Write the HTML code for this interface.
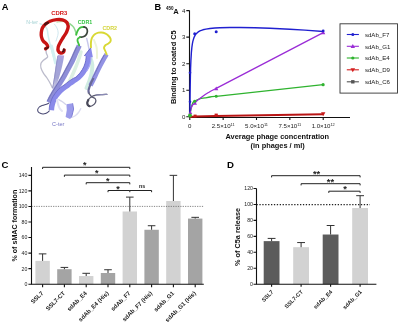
<!DOCTYPE html>
<html><head><meta charset="utf-8">
<style>
html,body{margin:0;padding:0;background:#fff;}
body{width:401px;height:323px;overflow:hidden;}
svg{display:block;font-family:"Liberation Sans",sans-serif;filter:blur(0.3px);}
.b{font-weight:bold;}
.ax{stroke:#111;stroke-width:1.1;fill:none;}
.tk{fill:#222;}
.xl{fill:#222;}
.st{fill:#222;}
</style></head><body>
<svg width="401" height="323" viewBox="0 0 401 323">
<rect width="401" height="323" fill="#fff"/>
<g id="panelA">
<text x="1.7" y="9.8" class="b" font-size="9.3" fill="#000">A</text>
<text x="26.3" y="23.6" font-size="5.3" fill="#a4d2d4">N-ter</text>
<text x="51.2" y="14.5" class="b" font-size="5.9" fill="#d41414">CDR3</text>
<text x="77.8" y="23.6" class="b" font-size="5.3" fill="#36c444">CDR1</text>
<text x="102.4" y="30.1" class="b" font-size="5.4" fill="#d4d43a">CDR2</text>
<text x="52.1" y="126.1" font-size="5.5" fill="#7474c4">C-ter</text>
<path d="M40.00 23.60 C40.67 23.92 42.83 24.60 44.00 25.50 C45.17 26.40 46.30 27.25 47.00 29.00 C47.70 30.75 47.78 33.83 48.20 36.00 C48.62 38.17 49.03 40.00 49.50 42.00 C49.97 44.00 50.42 45.83 51.00 48.00 C51.58 50.17 52.33 52.67 53.00 55.00 C53.67 57.33 54.67 60.83 55.00 62.00" fill="none" stroke="#d0eef0" stroke-width="1.50" stroke-linecap="round" stroke-linejoin="round" />
<path d="M51.50 46.00 C51.75 47.00 52.55 50.17 53.00 52.00 C53.45 53.83 53.78 55.17 54.20 57.00 C54.62 58.83 55.28 62.00 55.50 63.00" fill="none" stroke="#d4f0f2" stroke-width="3.00" stroke-linecap="round" stroke-linejoin="round" />
<path d="M54.40 24.20 C54.83 24.83 56.37 26.53 57.00 28.00 C57.63 29.47 58.20 31.33 58.20 33.00 C58.20 34.67 57.37 36.67 57.00 38.00 C56.63 39.33 56.17 40.50 56.00 41.00" fill="none" stroke="#d0e8f0" stroke-width="1.00" stroke-linecap="round" stroke-linejoin="round" />
<path d="M56.90 22.30 C57.58 22.20 59.43 21.80 61.00 21.70 C62.57 21.60 64.70 21.28 66.30 21.70 C67.90 22.12 69.88 23.78 70.60 24.20" fill="none" stroke="#b8e8b0" stroke-width="1.00" stroke-linecap="round" stroke-linejoin="round" />
<path d="M86.70 38.40 C86.92 39.33 87.58 42.07 88.00 44.00 C88.42 45.93 89.00 49.00 89.20 50.00" fill="none" stroke="#c8c8ec" stroke-width="1.40" stroke-linecap="round" stroke-linejoin="round" />
<path d="M81.00 52.00 C80.58 53.33 79.50 57.17 78.50 60.00 C77.50 62.83 76.25 66.00 75.00 69.00 C73.75 72.00 72.17 75.50 71.00 78.00 C69.83 80.50 68.50 83.00 68.00 84.00" fill="none" stroke="#dcf0e2" stroke-width="3.50" stroke-linecap="round" stroke-linejoin="round" />
<path d="M90.50 58.00 C90.80 59.17 92.13 62.33 92.30 65.00 C92.47 67.67 92.05 71.17 91.50 74.00 C90.95 76.83 89.83 79.67 89.00 82.00 C88.17 84.33 86.92 87.00 86.50 88.00" fill="none" stroke="#d0ece2" stroke-width="4.00" stroke-linecap="round" stroke-linejoin="round" />
<path d="M94.00 40.00 C94.42 41.17 96.00 44.83 96.50 47.00 C97.00 49.17 96.92 51.17 97.00 53.00 C97.08 54.83 97.00 57.17 97.00 58.00" fill="none" stroke="#eef4d8" stroke-width="2.00" stroke-linecap="round" stroke-linejoin="round" />
<path d="M45.80 48.10 C45.88 48.92 46.00 51.52 46.30 53.00 C46.60 54.48 48.03 55.83 47.60 57.00 C47.17 58.17 44.80 58.95 43.70 60.00 C42.60 61.05 41.45 61.93 41.00 63.30 C40.55 64.67 40.55 66.48 41.00 68.20 C41.45 69.92 42.70 71.97 43.70 73.60 C44.70 75.23 45.95 76.43 47.00 78.00 C48.05 79.57 49.08 81.33 50.00 83.00 C50.92 84.67 52.08 87.17 52.50 88.00" fill="none" stroke="#bcbccc" stroke-width="1.30" stroke-linecap="round" stroke-linejoin="round" />
<defs><linearGradient id="gC" x1="0" y1="0" x2="0" y2="1"><stop offset="0" stop-color="#b6a2dc"/><stop offset="0.15" stop-color="#a2a2dc"/><stop offset="0.65" stop-color="#a4a4d6"/><stop offset="1" stop-color="#d4d4e4"/></linearGradient></defs>
<path d="M57.8 55 L64.2 55.6 C63.2 62 61.5 70 59.3 77 C57.8 82 56 86 53.8 90 L52.3 89 C53 84 54 78 55 71 C55.8 65 56.8 60 57.8 55 Z" fill="url(#gC)"/>
<path d="M57.80 56.00 C57.63 57.00 57.13 59.83 56.80 62.00 C56.47 64.17 56.13 66.67 55.80 69.00 C55.47 71.33 55.17 73.67 54.80 76.00 C54.43 78.33 53.97 81.00 53.60 83.00 C53.23 85.00 52.77 87.17 52.60 88.00" fill="none" stroke="#9090c4" stroke-width="0.90" />
<path d="M79.30 45.50 C78.75 46.67 77.13 50.00 76.00 52.50 C74.87 55.00 73.75 57.92 72.50 60.50 C71.25 63.08 69.83 65.50 68.50 68.00 C67.17 70.50 65.92 73.00 64.50 75.50 C63.08 78.00 61.50 80.58 60.00 83.00 C58.50 85.42 56.92 87.67 55.50 90.00 C54.08 92.33 52.62 94.92 51.50 97.00 C50.38 99.08 49.25 101.58 48.80 102.50" fill="none" stroke="#8e8ed8" stroke-width="5.20" />
<path d="M76.70 47.00 C76.17 48.17 74.62 51.58 73.50 54.00 C72.38 56.42 71.25 59.00 70.00 61.50 C68.75 64.00 67.33 66.50 66.00 69.00 C64.67 71.50 63.42 74.00 62.00 76.50 C60.58 79.00 59.00 81.58 57.50 84.00 C56.00 86.42 54.33 88.83 53.00 91.00 C51.67 93.17 50.42 95.33 49.50 97.00 C48.58 98.67 47.83 100.33 47.50 101.00" fill="none" stroke="#7474b4" stroke-width="1.00" />
<path d="M106.60 54.30 C106.08 55.17 104.55 57.63 103.50 59.50 C102.45 61.37 101.33 63.50 100.30 65.50 C99.27 67.50 98.27 69.50 97.30 71.50 C96.33 73.50 95.38 75.67 94.50 77.50 C93.62 79.33 92.67 81.17 92.00 82.50 C91.33 83.83 90.75 85.00 90.50 85.50" fill="none" stroke="#9292e4" stroke-width="4.60" />
<path d="M104.20 55.00 C103.70 55.92 102.20 58.58 101.20 60.50 C100.20 62.42 99.17 64.50 98.20 66.50 C97.23 68.50 96.30 70.67 95.40 72.50 C94.50 74.33 93.23 76.67 92.80 77.50" fill="none" stroke="#7272b8" stroke-width="1.00" />
<path d="M93.50 78.00 C93.12 78.75 91.87 81.00 91.20 82.50 C90.53 84.00 89.95 85.67 89.50 87.00 C89.05 88.33 88.58 89.42 88.50 90.50 C88.42 91.58 88.92 93.00 89.00 93.50" fill="none" stroke="#6a6a98" stroke-width="2.20" />
<path d="M89.00 93.50 C89.45 94.03 90.63 95.78 91.70 96.70 C92.77 97.62 94.77 98.03 95.40 99.00 C96.03 99.97 95.98 101.42 95.50 102.50 C95.02 103.58 93.58 104.87 92.50 105.50 C91.42 106.13 89.87 106.72 89.00 106.30 C88.13 105.88 87.38 104.13 87.30 103.00 C87.22 101.87 87.77 100.55 88.50 99.50 C89.23 98.45 90.62 97.40 91.70 96.70 C92.78 96.00 93.62 95.65 95.00 95.30 C96.38 94.95 98.02 94.77 100.00 94.60 C101.98 94.43 105.75 94.35 106.90 94.30" fill="none" stroke="#5a5a70" stroke-width="1.30" stroke-linecap="round" stroke-linejoin="round" />
<path d="M88.30 100.00 C88.13 100.42 87.38 101.67 87.30 102.50 C87.22 103.33 87.43 104.38 87.80 105.00 C88.17 105.62 89.22 106.00 89.50 106.20" fill="none" stroke="#484858" stroke-width="2.20" stroke-linecap="round" stroke-linejoin="round" />
<path d="M96.00 95.10 C96.83 95.02 99.18 94.73 101.00 94.60 C102.82 94.47 105.92 94.35 106.90 94.30" fill="none" stroke="#8a8ab4" stroke-width="1.20" stroke-linecap="round" stroke-linejoin="round" />
<path d="M88.60 55.50 C88.52 56.42 88.48 59.08 88.10 61.00 C87.72 62.92 87.18 65.00 86.30 67.00 C85.42 69.00 84.10 71.23 82.80 73.00 C81.50 74.77 79.82 76.38 78.50 77.60 C77.18 78.82 76.23 79.37 74.90 80.30 C73.57 81.23 71.88 82.20 70.50 83.20 C69.12 84.20 67.97 85.28 66.60 86.30 C65.23 87.32 63.65 88.18 62.30 89.30 C60.95 90.42 59.65 91.72 58.50 93.00 C57.35 94.28 56.28 95.50 55.40 97.00 C54.52 98.50 53.77 100.42 53.20 102.00 C52.63 103.58 52.27 105.13 52.00 106.50 C51.73 107.87 51.67 109.58 51.60 110.20" fill="none" stroke="#8a8aea" stroke-width="5.00" />
<path d="M86.30 54.90 C86.22 55.82 86.18 58.48 85.80 60.40 C85.42 62.32 84.88 64.40 84.00 66.40 C83.12 68.40 81.80 70.63 80.50 72.40 C79.20 74.17 77.40 76.00 76.20 77.00 C75.00 78.00 74.52 77.68 73.30 78.40 C72.08 79.12 70.28 80.30 68.90 81.30 C67.52 82.30 66.37 83.38 65.00 84.40 C63.63 85.42 62.05 86.28 60.70 87.40 C59.35 88.52 58.18 89.57 56.90 91.10 C55.62 92.63 54.02 94.85 53.00 96.60 C51.98 98.35 51.37 100.02 50.80 101.60 C50.23 103.18 49.87 104.73 49.60 106.10 C49.33 107.47 49.27 109.18 49.20 109.80" fill="none" stroke="#7070cc" stroke-width="1.00" />
<path d="M91.00 56.50 C90.95 57.25 90.97 59.42 90.70 61.00 C90.43 62.58 90.05 64.33 89.40 66.00 C88.75 67.67 87.23 70.17 86.80 71.00" fill="none" stroke="#a6a6f4" stroke-width="1.20" />
<polygon points="84.3,56 92.9,57.3 91,47.3" fill="#8a8aea"/>
<path d="M84.3 55.9 L91 47.5" stroke="#6060c4" stroke-width="0.9"/>
<path d="M48.60 103.30 C48.25 103.45 47.25 103.92 46.50 104.20 C45.75 104.48 44.93 104.73 44.10 105.00 C43.27 105.27 42.30 105.47 41.50 105.80 C40.70 106.13 39.93 106.38 39.30 107.00 C38.67 107.62 37.87 108.67 37.70 109.50 C37.53 110.33 37.87 111.37 38.30 112.00 C38.73 112.63 39.52 112.98 40.30 113.30 C41.08 113.62 42.13 113.87 43.00 113.90 C43.87 113.93 44.72 113.75 45.50 113.50 C46.28 113.25 47.07 112.85 47.70 112.40 C48.33 111.95 49.03 111.07 49.30 110.80" fill="none" stroke="#4a4a74" stroke-width="1.05" stroke-linecap="round" stroke-linejoin="round" />
<path d="M58.80 99.70 C59.33 100.00 60.88 100.75 62.00 101.50 C63.12 102.25 64.92 103.75 65.50 104.20" fill="none" stroke="#d4d4ea" stroke-width="1.40" stroke-linecap="round" stroke-linejoin="round" />
<path d="M57.00 100.00 C57.17 100.67 57.58 102.67 58.00 104.00 C58.42 105.33 58.83 106.83 59.50 108.00 C60.17 109.17 61.58 110.50 62.00 111.00" fill="none" stroke="#e4e4f4" stroke-width="2.00" stroke-linecap="round" stroke-linejoin="round" />
<polygon points="66.4,104.2 72.6,103.3 73.6,109 71.5,117.5 70,119 65.6,117 66.8,110" fill="#9c9cea"/>
<path d="M72.6 103.3 L73.6 109 L71.5 117.5" fill="none" stroke="#8080d8" stroke-width="1"/>
<path d="M80.80 108.60 C80.42 109.25 79.38 111.35 78.50 112.50 C77.62 113.65 76.55 114.70 75.50 115.50 C74.45 116.30 72.75 117.00 72.20 117.30" fill="none" stroke="#dcdcf0" stroke-width="1.30" stroke-linecap="round" stroke-linejoin="round" />
<path d="M45.60 48.80 C45.97 48.47 47.65 47.60 47.80 46.80 C47.95 46.00 47.27 44.97 46.50 44.00 C45.73 43.03 44.03 42.17 43.20 41.00 C42.37 39.83 41.82 38.43 41.50 37.00 C41.18 35.57 41.13 33.93 41.30 32.40 C41.47 30.87 41.83 29.17 42.50 27.80 C43.17 26.43 44.05 25.30 45.30 24.20 C46.55 23.10 48.13 21.97 50.00 21.20 C51.87 20.43 54.42 19.83 56.50 19.60 C58.58 19.37 60.78 19.33 62.50 19.80 C64.22 20.27 65.85 21.23 66.80 22.40 C67.75 23.57 68.23 25.20 68.20 26.80 C68.17 28.40 67.43 30.22 66.60 32.00 C65.77 33.78 64.27 35.75 63.20 37.50 C62.13 39.25 61.03 40.92 60.20 42.50 C59.37 44.08 58.52 45.58 58.20 47.00 C57.88 48.42 57.87 49.98 58.30 51.00 C58.73 52.02 59.93 52.93 60.80 53.10 C61.67 53.27 62.93 52.52 63.50 52.00 C64.07 51.48 64.08 50.33 64.20 50.00" fill="none" stroke="#c81414" stroke-width="3.40" stroke-linecap="round" stroke-linejoin="round" />
<path d="M48.00 47.40 C47.80 47.57 47.22 48.20 46.80 48.40 C46.38 48.60 45.72 48.57 45.50 48.60" fill="none" stroke="#5a1010" stroke-width="2.00" stroke-linecap="round" stroke-linejoin="round" />
<path d="M62.80 51.60 C63.00 51.43 63.83 50.98 64.00 50.60 C64.17 50.22 63.83 49.52 63.80 49.30" fill="none" stroke="#4a1414" stroke-width="1.80" stroke-linecap="round" stroke-linejoin="round" />
<path d="M45.00 24.40 C45.25 24.23 46.03 23.67 46.50 23.40 C46.97 23.13 47.58 22.90 47.80 22.80" fill="none" stroke="#501010" stroke-width="2.40" stroke-linecap="round" stroke-linejoin="round" />
<path d="M69.50 23.60 C70.05 24.05 71.98 25.47 72.80 26.30 C73.62 27.13 73.95 27.73 74.40 28.60 C74.85 29.47 75.20 30.48 75.50 31.50 C75.80 32.52 76.08 34.17 76.20 34.70" fill="none" stroke="#8ed88e" stroke-width="1.40" stroke-linecap="round" stroke-linejoin="round" />
<path d="M76.20 34.70 C76.42 34.08 76.98 32.05 77.50 31.00 C78.02 29.95 78.60 29.03 79.30 28.40 C80.00 27.77 80.92 27.43 81.70 27.20 C82.48 26.97 83.62 27.03 84.00 27.00" fill="none" stroke="#40c040" stroke-width="1.80" stroke-linecap="round" stroke-linejoin="round" />
<path d="M84.00 27.00 C84.38 27.17 85.73 27.33 86.30 28.00 C86.87 28.67 87.35 30.00 87.40 31.00 C87.45 32.00 87.02 33.17 86.60 34.00 C86.18 34.83 85.62 35.50 84.90 36.00 C84.18 36.50 83.13 36.80 82.30 37.00 C81.47 37.20 80.30 37.17 79.90 37.20" fill="none" stroke="#3c463c" stroke-width="1.70" stroke-linecap="round" stroke-linejoin="round" />
<path d="M79.90 37.20 C79.58 37.43 78.40 38.03 78.00 38.60 C77.60 39.17 77.45 39.87 77.50 40.60 C77.55 41.33 78.02 42.22 78.30 43.00 C78.58 43.78 79.05 44.92 79.20 45.30" fill="none" stroke="#40c040" stroke-width="1.80" stroke-linecap="round" stroke-linejoin="round" />
<path d="M91.00 47.30 C90.98 46.67 90.85 44.72 90.90 43.50 C90.95 42.28 91.02 41.12 91.30 40.00 C91.58 38.88 91.95 37.80 92.60 36.80 C93.25 35.80 94.22 34.68 95.20 34.00 C96.18 33.32 97.45 32.95 98.50 32.70 C99.55 32.45 100.42 32.38 101.50 32.50 C102.58 32.62 103.88 32.90 105.00 33.40 C106.12 33.90 107.28 34.63 108.20 35.50 C109.12 36.37 110.13 37.57 110.50 38.60 C110.87 39.63 110.82 40.83 110.40 41.70 C109.98 42.57 108.80 43.25 108.00 43.80 C107.20 44.35 106.27 44.33 105.60 45.00 C104.93 45.67 104.05 46.80 104.00 47.80 C103.95 48.80 104.87 49.92 105.30 51.00 C105.73 52.08 106.38 53.75 106.60 54.30" fill="none" stroke="#d8d834" stroke-width="1.90" stroke-linecap="round" stroke-linejoin="round" />
</g>
<g id="panelB">
<text x="154.5" y="9.8" class="b" font-size="9.2" fill="#000">B</text>
<text x="165.9" y="10.3" class="b" font-size="4.6" fill="#111">450</text>
<text x="173.3" y="13.7" class="b" font-size="7.6" fill="#111">A</text>
<text transform="translate(175.6,104) rotate(-90)" class="b" font-size="7.36" fill="#111">Binding to coated C5</text>
<path class="ax" d="M189.5 10.6 V117.5 M186.3 116.80 H189.5 M186.3 90.25 H189.5 M186.3 63.70 H189.5 M186.3 37.15 H189.5 M186.3 10.60 H189.5 "/>
<text x="185.4" y="119.00" class="tk" font-size="6.1" text-anchor="end">0</text>
<text x="185.4" y="92.45" class="tk" font-size="6.1" text-anchor="end">1</text>
<text x="185.4" y="65.90" class="tk" font-size="6.1" text-anchor="end">2</text>
<text x="185.4" y="39.35" class="tk" font-size="6.1" text-anchor="end">3</text>
<text x="185.4" y="12.80" class="tk" font-size="6.1" text-anchor="end">4</text>
<path class="ax" d="M189.5 117.5 H350 M189.80 117.5 V120 M223.15 117.5 V120 M256.50 117.5 V120 M289.85 117.5 V120 M323.20 117.5 V120 "/>
<text x="189.6" y="128" class="tk" font-size="6.1" text-anchor="middle">0</text>
<text x="223.15" y="128" class="tk" font-size="6.1" text-anchor="middle">2.5×10<tspan font-size="3.9" dy="-2.5">11</tspan></text>
<text x="256.50" y="128" class="tk" font-size="6.1" text-anchor="middle">5.0×10<tspan font-size="3.9" dy="-2.5">11</tspan></text>
<text x="289.85" y="128" class="tk" font-size="6.1" text-anchor="middle">7.5×10<tspan font-size="3.9" dy="-2.5">11</tspan></text>
<text x="323.20" y="128" class="tk" font-size="6.1" text-anchor="middle">1.0×10<tspan font-size="3.9" dy="-2.5">12</tspan></text>
<text x="277.3" y="139.3" class="b" font-size="7.4" fill="#111" text-anchor="middle">Average phage concentration</text>
<text x="277.7" y="148.3" class="b" font-size="7.4" fill="#111" text-anchor="middle">(in phages / ml)</text>
<polyline points="189.80,117.00 195.00,116.50 216.00,116.00 323.20,114.30" fill="none" stroke="#b81414" stroke-width="2"/>
<path d="M189.90 115.80 C190.05 114.83 190.45 111.80 190.80 110.00 C191.15 108.20 191.57 106.35 192.00 105.00 C192.43 103.65 192.90 102.58 193.40 101.90 C193.90 101.22 193.97 101.42 195.00 100.90 C196.03 100.38 197.93 99.30 199.60 98.80 C201.27 98.30 203.27 98.20 205.00 97.90 C206.73 97.60 208.13 97.27 210.00 97.00 C211.87 96.73 215.17 96.42 216.20 96.30 L323.1 84.7" fill="none" stroke="#2fb32f" stroke-width="1.3"/>
<path d="M190.20 112.50 C190.37 111.75 190.80 109.25 191.20 108.00 C191.60 106.75 192.03 105.78 192.60 105.00 C193.17 104.22 193.82 104.03 194.60 103.30 C195.38 102.57 195.82 101.87 197.30 100.60 C198.78 99.33 201.55 97.10 203.50 95.70 C205.45 94.30 207.42 93.15 209.00 92.20 C210.58 91.25 211.80 90.63 213.00 90.00 C214.20 89.37 215.67 88.67 216.20 88.40 L323.2 32.6" fill="none" stroke="#9a2cd6" stroke-width="1.3"/>
<polyline points="189.90,116.80 189.95,109.94 190.00,104.05 190.10,94.43 190.20,86.91 190.40,75.92 190.60,68.27 190.90,60.35 191.40,52.14 191.90,47.07 192.40,43.63 192.90,41.14 193.90,37.78 194.90,35.62 195.90,34.11 197.90,32.16 199.90,30.94 202.90,29.80 205.90,29.08 209.90,28.47 214.90,28.01 219.90,27.73 229.90,27.50 239.90,27.50 254.90,27.77 269.90,28.28 289.90,29.24 304.90,30.15 323.30,31.48" fill="none" stroke="#2020d0" stroke-width="1.4" stroke-linejoin="round"/>
<g fill="#2020d0"><circle cx="190" cy="72.7" r="1.3"/><circle cx="190" cy="101.8" r="1.3"/><circle cx="194.7" cy="33.7" r="1.5"/><circle cx="216.2" cy="31.7" r="1.5"/></g>
<polygon points="190.40,110.86 188.60,114.10 192.20,114.10" fill="#9a2cd6"/>
<polygon points="195.10,101.45 193.20,104.87 197.00,104.87" fill="#9a2cd6"/>
<polygon points="216.20,86.53 214.10,90.31 218.30,90.31" fill="#9a2cd6"/>
<polygon points="323.20,30.53 321.10,34.31 325.30,34.31" fill="#9a2cd6"/>
<circle cx="323.2" cy="30.9" r="1.4" fill="#2020d0"/>
<g fill="#2fb32f"><circle cx="194.6" cy="101.2" r="1.5"/><circle cx="216.2" cy="96.3" r="1.5"/><circle cx="323.1" cy="84.7" r="1.6"/><circle cx="190" cy="115.6" r="2"/></g>
<g fill="#c81a1a"><rect x="193.6" y="114.6" width="3" height="2.8"/><rect x="214.6" y="113.6" width="3.2" height="3"/></g>
<polygon points="323.20,116.28 321.00,112.32 325.40,112.32" fill="#c81a1a"/>
<rect x="340" y="23.8" width="57.5" height="69.3" fill="none" stroke="#333" stroke-width="0.9"/>
<line x1="346.8" y1="34.5" x2="358.9" y2="34.5" stroke="#2020d0" stroke-width="1.1"/>
<text x="364.9" y="36.7" font-size="6.1" fill="#1a1a1a">sdAb_F7</text>
<line x1="346.8" y1="46.3" x2="358.9" y2="46.3" stroke="#9a2cd6" stroke-width="1.1"/>
<text x="364.9" y="48.5" font-size="6.1" fill="#1a1a1a">sdAb_G1</text>
<line x1="346.8" y1="58.0" x2="358.9" y2="58.0" stroke="#2fb32f" stroke-width="1.1"/>
<text x="364.9" y="60.2" font-size="6.1" fill="#1a1a1a">sdAb_E4</text>
<line x1="346.8" y1="69.8" x2="358.9" y2="69.8" stroke="#d42020" stroke-width="1.1"/>
<text x="364.9" y="72.0" font-size="6.1" fill="#1a1a1a">sdAb_D9</text>
<line x1="346.8" y1="81.8" x2="358.9" y2="81.8" stroke="#555" stroke-width="1.1"/>
<text x="364.9" y="84.0" font-size="6.1" fill="#1a1a1a">sdAb_C6</text>
<circle cx="352.8" cy="34.5" r="1.5" fill="#2020d0"/>
<polygon points="352.80,43.92 350.60,47.88 355.00,47.88" fill="#9a2cd6"/>
<circle cx="352.8" cy="58" r="1.6" fill="#2fb32f"/>
<polygon points="352.80,72.28 350.50,68.14 355.10,68.14" fill="#d42020"/>
<rect x="351.1" y="80.1" width="3.4" height="3.4" fill="#555"/>
</g>
<g id="panelC">
<text x="1.6" y="168" class="b" font-size="9.6" fill="#000">C</text>
<text transform="translate(16.8,261.5) rotate(-90)" class="b" font-size="7.1" fill="#111">% of sMAC formation</text>
<rect x="35.40" y="260.88" width="14.40" height="23.32" fill="#d2d2d2"/>
<rect x="57.20" y="269.19" width="14.40" height="15.01" fill="#a4a4a4"/>
<rect x="79.00" y="276.04" width="14.40" height="8.16" fill="#d2d2d2"/>
<rect x="100.80" y="273.00" width="14.40" height="11.20" fill="#a4a4a4"/>
<rect x="122.60" y="211.50" width="14.40" height="72.70" fill="#d2d2d2"/>
<rect x="144.40" y="229.77" width="14.40" height="54.43" fill="#a4a4a4"/>
<rect x="166.20" y="201.01" width="14.40" height="83.19" fill="#d2d2d2"/>
<rect x="188.00" y="218.58" width="14.40" height="65.62" fill="#a4a4a4"/>
<line x1="31.5" y1="206.4" x2="203.5" y2="206.4" stroke="#666" stroke-width="0.8" stroke-dasharray="1.2 1.2"/>
<path fill="none" stroke="#333" stroke-width="1" d="M42.60 260.88 V253.88 M38.80 253.88 H46.40 M64.40 269.19 V267.41 M60.60 267.41 H68.20 M86.20 276.04 V273.31 M82.40 273.31 H90.00 M108.00 273.00 V269.74 M104.20 269.74 H111.80 M129.80 211.50 V197.12 M126.00 197.12 H133.60 M151.60 229.77 V225.73 M147.80 225.73 H155.40 M173.40 201.01 V175.35 M169.60 175.35 H177.20 M195.20 218.58 V217.33 M191.40 217.33 H199.00 "/>
<path class="ax" d="M31.5 167 V284.2 H203.8"/>
<path class="ax" d="M28.4 284.20 H31.5 M28.4 268.65 H31.5 M28.4 253.10 H31.5 M28.4 237.55 H31.5 M28.4 222.00 H31.5 M28.4 206.45 H31.5 M28.4 190.90 H31.5 M28.4 175.35 H31.5 M42.60 284.2 V287.3 M64.40 284.2 V287.3 M86.20 284.2 V287.3 M108.00 284.2 V287.3 M129.80 284.2 V287.3 M151.60 284.2 V287.3 M173.40 284.2 V287.3 M195.20 284.2 V287.3 "/>
<text x="27.4" y="286.10" class="tk" font-size="5.2" text-anchor="end">0</text>
<text x="27.4" y="270.55" class="tk" font-size="5.2" text-anchor="end">20</text>
<text x="27.4" y="255.00" class="tk" font-size="5.2" text-anchor="end">40</text>
<text x="27.4" y="239.45" class="tk" font-size="5.2" text-anchor="end">60</text>
<text x="27.4" y="223.90" class="tk" font-size="5.2" text-anchor="end">80</text>
<text x="27.4" y="208.35" class="tk" font-size="5.2" text-anchor="end">100</text>
<text x="27.4" y="192.80" class="tk" font-size="5.2" text-anchor="end">120</text>
<text x="27.4" y="177.25" class="tk" font-size="5.2" text-anchor="end">140</text>
<text transform="translate(43.70,293.70) rotate(-45)" class="xl b" font-size="5.9" text-anchor="end">SSL7</text>
<text transform="translate(65.50,293.70) rotate(-45)" class="xl b" font-size="5.9" text-anchor="end">SSL7-CT</text>
<text transform="translate(87.30,293.70) rotate(-45)" class="xl b" font-size="5.9" text-anchor="end">sdAb_E4</text>
<text transform="translate(109.10,293.70) rotate(-45)" class="xl b" font-size="5.9" text-anchor="end">sdAb_E4 (His)</text>
<text transform="translate(130.90,293.70) rotate(-45)" class="xl b" font-size="5.9" text-anchor="end">sdAb_F7</text>
<text transform="translate(152.70,293.70) rotate(-45)" class="xl b" font-size="5.9" text-anchor="end">sdAb_F7 (His)</text>
<text transform="translate(174.50,293.70) rotate(-45)" class="xl b" font-size="5.9" text-anchor="end">sdAb_G1</text>
<text transform="translate(196.30,293.70) rotate(-45)" class="xl b" font-size="5.9" text-anchor="end">sdAb_G1 (His)</text>
<path fill="none" stroke="#222" stroke-width="1" d="M42.60 169.00 V167.30 H129.80 V169.00 M64.40 176.80 V175.10 H129.80 V176.80 M86.20 184.40 V182.70 H129.80 V184.40 M108.00 192.20 V190.50 H129.80 V192.20 M129.80 190.5 H151.60 V192.2"/>
<text x="84.7" y="168.2" class="b st" font-size="9" text-anchor="middle">*</text>
<text x="96.8" y="175.7" class="b st" font-size="9" text-anchor="middle">*</text>
<text x="107.7" y="183.8" class="b st" font-size="9" text-anchor="middle">*</text>
<text x="118.0" y="191.7" class="b st" font-size="9" text-anchor="middle">*</text>
<text x="142.1" y="188.4" font-size="5.3" class="b" fill="#222" text-anchor="middle">ns</text>
</g>
<g id="panelD">
<text x="227.1" y="167.7" class="b" font-size="9.6" fill="#000">D</text>
<text transform="translate(240.3,265.9) rotate(-90)" class="b" font-size="7.3" fill="#111">% of C5a release</text>
<rect x="263.70" y="241.13" width="15.80" height="43.06" fill="#5c5c5c"/>
<rect x="293.20" y="247.20" width="15.80" height="37.00" fill="#d2d2d2"/>
<rect x="322.70" y="234.52" width="15.80" height="49.68" fill="#5c5c5c"/>
<rect x="352.20" y="208.04" width="15.80" height="76.16" fill="#d2d2d2"/>
<line x1="256.5" y1="204.6" x2="370" y2="204.6" stroke="#222" stroke-width="1.2" stroke-dasharray="1.3 1.6"/>
<path fill="none" stroke="#333" stroke-width="1" d="M271.60 241.13 V238.42 M267.70 238.42 H275.50 M301.10 247.20 V242.57 M297.20 242.57 H305.00 M330.60 234.52 V225.50 M326.70 225.50 H334.50 M360.10 208.04 V195.68 M356.20 195.68 H364.00 "/>
<path class="ax" d="M256.5 188.4 V284.2 H376.4"/>
<path class="ax" d="M253.5 284.20 H256.5 M253.5 268.25 H256.5 M253.5 252.30 H256.5 M253.5 236.35 H256.5 M253.5 220.40 H256.5 M253.5 204.45 H256.5 M253.5 188.50 H256.5 M271.60 284.2 V286.8 M301.10 284.2 V286.8 M330.60 284.2 V286.8 M360.10 284.2 V286.8 "/>
<text x="253" y="286.10" class="tk" font-size="5.2" text-anchor="end">0</text>
<text x="253" y="270.15" class="tk" font-size="5.2" text-anchor="end">20</text>
<text x="253" y="254.20" class="tk" font-size="5.2" text-anchor="end">40</text>
<text x="253" y="238.25" class="tk" font-size="5.2" text-anchor="end">60</text>
<text x="253" y="222.30" class="tk" font-size="5.2" text-anchor="end">80</text>
<text x="253" y="206.35" class="tk" font-size="5.2" text-anchor="end">100</text>
<text x="253" y="190.40" class="tk" font-size="5.2" text-anchor="end">120</text>
<text transform="translate(273.80,292.30) rotate(-45)" class="xl b" font-size="5.6" text-anchor="end">SSL7</text>
<text transform="translate(303.30,292.30) rotate(-45)" class="xl b" font-size="5.6" text-anchor="end">SSL7-CT</text>
<text transform="translate(332.80,292.30) rotate(-45)" class="xl b" font-size="5.6" text-anchor="end">sdAb_E4</text>
<text transform="translate(362.30,292.30) rotate(-45)" class="xl b" font-size="5.6" text-anchor="end">sdAb_G1</text>
<path fill="none" stroke="#222" stroke-width="1" d="M271.60 177.40 V175.70 H360.10 V177.40 M301.10 185.40 V183.70 H360.10 V185.40 M328.80 192.90 V191.20 H360.10 V192.90 "/>
<text x="316.6" y="176.8" class="b st" font-size="9.4" text-anchor="middle">**</text>
<text x="330.4" y="184.6" class="b st" font-size="9.4" text-anchor="middle">**</text>
<text x="345.1" y="192.0" class="b st" font-size="9.4" text-anchor="middle">*</text>
</g>
</svg>
</body></html>
